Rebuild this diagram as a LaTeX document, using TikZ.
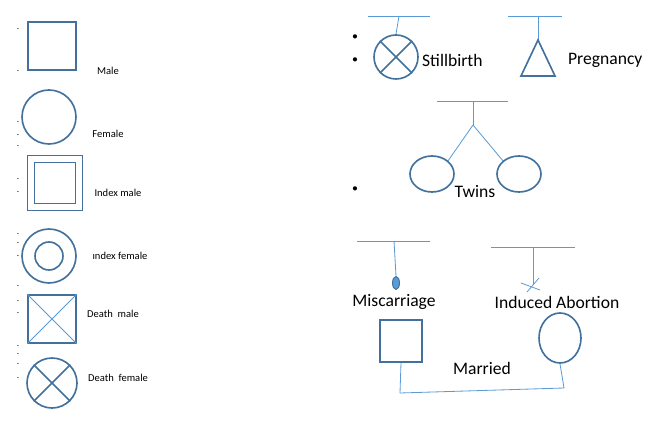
\documentclass[tikz,border=0pt]{standalone}
\usepackage{fontspec}
\setmainfont{Carlito}
\usetikzlibrary{shapes.geometric}
\definecolor{darkblue}{RGB}{65,113,156}
\definecolor{lightblue}{RGB}{91,155,213}
\tikzset{
 sym/.style={draw=darkblue, line width=1.4pt},
 thin/.style={draw=lightblue, line width=0.7pt},
 small/.style={font=\fontsize{9}{10}\selectfont},
 big/.style={font=\fontsize{15}{17}\selectfont},
 dot/.style={font=\fontsize{8}{8}\selectfont}
}
\begin{document}
\begin{tikzpicture}[x=0.03cm,y=-0.03cm]
\useasboundingbox (0,0) rectangle (655,431);
% left column
\begin{scope}[every node/.style={inner sep=0pt}]
 \foreach \y in {29,71,122,135,146,179,192,234,243,256,286,301,313,346,354,364,378}
  \node[dot] at (18,\y) {.};
\end{scope}
\node[sym, rectangle, minimum size=48*0.03cm] (male) at (52,46) {};
\node[small] (malelbl) at (108,71) {Male};
\node[sym, circle, minimum size=54*0.03cm] (female) at (49,117) {};
\node[small] (femalelbl) at (108,134) {Female};
\node[sym, rectangle, minimum size=55*0.03cm] (indexm) at (55,183) {};
\node[sym, rectangle, minimum size=41*0.03cm] (indexmin) at (55,183) {};
\node[small] (indexmlbl) at (118,193) {Index male};
\node[sym, circle, minimum size=54*0.03cm] (indexf) at (49,256) {};
\node[sym, circle, minimum size=28*0.03cm] (indexfin) at (49,256) {};
\node[small] (indexflbl) at (120,256) {ındex female};
\node[sym, rectangle, minimum size=48*0.03cm] (deathm) at (52,319) {};
\draw[thin] (deathm.north west) -- (deathm.south east);
\draw[thin] (deathm.north east) -- (deathm.south west);
\node[small] (deathmlbl) at (113,314) {Death\ \ male};
\node[sym, circle, minimum size=50*0.03cm] (deathf) at (52,383) {};
\draw[sym] (deathf.north west) -- (deathf.south east);
\draw[sym] (deathf.north east) -- (deathf.south west);
\node[small] (deathflbl) at (118,378) {Death\ \ female};
% right column
\foreach \y in {37,60,189}
 \node[font=\fontsize{9}{9}\selectfont] at (355,\y) {$\bullet$};
% stillbirth
\coordinate (sbl) at (368,16); \coordinate (sbr) at (430,16); \coordinate (sbt) at (399,16);
\node[sym, circle, minimum size=44*0.03cm] (still) at (396,57) {};
\draw[thin] (sbl) -- (sbr);
\draw[thin] (sbt) -- (still.north);
\draw[sym] (still.north west) -- (still.south east);
\draw[sym] (still.north east) -- (still.south west);
\node[big, anchor=west] (stilllbl) at (418,60) {Stillbirth};
% pregnancy
\coordinate (pgl) at (508,16); \coordinate (pgr) at (562,16); \coordinate (pgt) at (538,16);
\coordinate (pga) at (538,40); \coordinate (pgb) at (521,76); \coordinate (pgc) at (555,76);
\draw[thin] (pgl) -- (pgr);
\draw[thin] (pgt) -- (pga);
\draw[sym] (pga) -- (pgb) -- (pgc) -- cycle;
\node[big, anchor=west] (preglbl) at (564,60) {Pregnancy};
% twins
\coordinate (twl) at (437,101); \coordinate (twr) at (508,101); \coordinate (twt) at (473,101);
\coordinate (twm) at (473,125);
\node[sym, ellipse, minimum width=44*0.03cm, minimum height=36*0.03cm] (twin1) at (432,174) {};
\node[sym, ellipse, minimum width=44*0.03cm, minimum height=36*0.03cm] (twin2) at (519,174) {};
\draw[thin] (twl) -- (twr);
\draw[thin] (twt) -- (twm);
\draw[thin] (twm) -- (twin1.north east);
\draw[thin] (twm) -- (twin2.north west);
\node[big] (twinslbl) at (475,192) {Twins};
% miscarriage
\coordinate (mcl) at (357,241); \coordinate (mcr) at (430,241); \coordinate (mct) at (394,241);
\node[ellipse, fill=lightblue, draw=darkblue, line width=0.8pt, minimum width=7*0.03cm, minimum height=13*0.03cm, inner sep=0pt] (misc) at (396,283) {};
\draw[thin] (mcl) -- (mcr);
\draw[thin] (mct) -- (misc.north);
\node[big] (misclbl) at (394,302) {Miscarriage};
% induced abortion
\coordinate (abl) at (491,247); \coordinate (abr) at (575,247); \coordinate (abt) at (533,247);
\coordinate (abb) at (533,284);
\coordinate (abx1) at (521,283); \coordinate (abx2) at (540,290);
\coordinate (abx3) at (527,292); \coordinate (abx4) at (539,278);
\draw[thin] (abl) -- (abr);
\draw[thin] (abt) -- (abb);
\draw[thin] (abx1) -- (abx2);
\draw[thin] (abx3) -- (abx4);
\node[big] (abortlbl) at (557,302) {Induced Abortion};
% married
\node[sym, rectangle, minimum size=42*0.03cm] (husband) at (401,341) {};
\node[sym, ellipse, minimum width=42*0.03cm, minimum height=50*0.03cm] (wife) at (560,338) {};
\coordinate (mrl) at (400,393); \coordinate (mrr) at (564,388);
\draw[thin] (husband.south) -- (mrl) -- (mrr) -- (wife.south);
\node[big] (marriedlbl) at (482,368) {Married};
\end{tikzpicture}
\end{document}
